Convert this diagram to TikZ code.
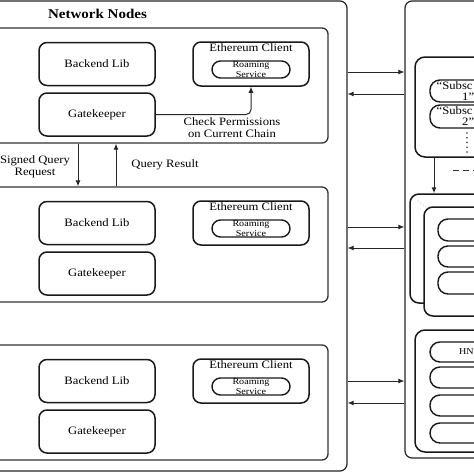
\documentclass[tikz,border=0pt]{standalone}
\usepackage{fontspec}
\setmainfont[FakeStretch=1.12]{Liberation Serif}
\usetikzlibrary{arrows.meta, positioning}

\begin{document}
\begin{tikzpicture}[x=1pt, y=-1pt,
    frame/.style={draw=black!85, line width=1.2pt, rounded corners=7pt, fill=white, inner sep=0pt},
    unit/.style={draw=black!80, line width=1.3pt, rounded corners=6pt, inner sep=0pt},
    box/.style={draw=black!90, line width=1.5pt, rounded corners=8pt, fill=white, inner sep=0pt},
    pill/.style={draw=black!90, line width=1.4pt, rounded corners=9pt, fill=white, inner sep=0pt},
    txt/.style={font=\fontsize{11.3}{12}\selectfont, align=center, inner sep=0pt},
    link/.style={black!85, line width=1pt, -{Latex[length=6pt,width=5pt]}}]
    \useasboundingbox (0,0) rectangle (474,474);
    \clip (0,0) rectangle (474,474);

    % two big columns
    \node[frame, minimum width=357pt, minimum height=470pt] (net) at (168.5,236) {};
    \node[frame, minimum width=135pt, minimum height=457pt] (chain) at (472.5,229.5) {};
    \node[font=\bfseries\fontsize{13.4}{14}\selectfont, inner sep=0pt] (title) at (97.5,14) {Network Nodes};

    % network nodes
    \foreach \t [count=\i] in {28,187,345} {
      \node[unit, minimum width=338pt, minimum height=115pt] (nn\i) at (159,{\t+57.5}) {};
      \node[box, txt, minimum width=116pt, minimum height=43pt] (lib\i) at (97,{\t+36}) {Backend Lib};
      \node[box, txt, minimum width=116pt, minimum height=43pt] (gate\i) at (97,{\t+86.5}) {Gatekeeper};
      \node[box, minimum width=116pt, minimum height=44pt] (eth\i) at (251,{\t+36}) {};
      \node[txt, anchor=north] (ethlbl\i) at ([yshift=-2pt]eth\i.north) {Ethereum Client};
      \node[pill, minimum width=78pt, minimum height=17pt, rounded corners=8.5pt, align=center,
            font=\fontsize{9}{9.5}\selectfont] (roam\i) at ([yshift=-5.5pt]eth\i.center) {Roaming\\Service};
    }

    % query between first and second node
    \coordinate (req) at (78,0);
    \coordinate (res) at (116,0);
    \draw[link] (nn1.south -| req) -- (nn2.north -| req);
    \draw[link] (nn2.north -| res) -- (nn1.south -| res);
    \node[txt] (reqlbl) at (35,167) {Signed Query\\Request};
    \node[txt] (reslbl) at (165,165) {Query Result};

    \draw[link, rounded corners=5pt] (gate1.east) -| (eth1.south);
    \node[txt, anchor=north] (chk) at (232,117) {Check Permissions\\on Current Chain};

    % right column
    \node[box, rounded corners=10pt, minimum width=125pt, minimum height=100pt] (subs) at (477.5,107) {};
    \node[pill, minimum width=74pt, minimum height=22pt, rounded corners=10pt] (sub1) at (467,91) {};
    \node[pill, minimum width=74pt, minimum height=23pt, rounded corners=10pt] (sub2) at (467,116.5) {};
    \node[txt, anchor=west] (sub1a) at (436.5,86) {“Subsc};
    \node[txt, anchor=west] (sub1b) at (462,97) {1”};
    \node[txt, anchor=west] (sub2a) at (436.5,111) {“Subsc};
    \node[txt, anchor=west] (sub2b) at (462,122) {2”};
    \foreach \d in {0,...,4}
      \fill[black!80] (467,{133+\d*4.75}) circle (0.9pt);
    \draw[black!80, line width=1pt, dash pattern=on 6pt off 4pt] (453,170) -- (480,170);

    \node[box, rounded corners=9pt, minimum width=130pt, minimum height=109pt] (stack) at (475,248.5) {};
    \node[box, rounded corners=9pt, minimum width=116pt, minimum height=109pt] (stackfront) at (482,261.5) {};
    \foreach \y/\h [count=\k] in {230/22, 256.5/21, 283/22}
      \node[pill, rounded corners=10pt, minimum width=120pt, minimum height=\h pt] (tx\k) at (498,\y) {};
    \foreach \e in {0,1,2}
      \fill[black!35] ({418+\e*2.5},{201+\e*2}) circle (0.5pt);
    \coordinate (drop) at (434,0);
    \draw[link] (subs.south -| drop) -- (stack.north -| drop);

    \node[box, rounded corners=10pt, minimum width=125pt, minimum height=122pt] (hns) at (477.5,391) {};
    \foreach \y/\h [count=\k] in {352/20, 377.5/21, 405.5/21, 433/20}
      \node[pill, rounded corners=10pt, minimum width=120pt, minimum height=\h pt] (hn\k) at (490,\y) {};
    \node[txt, anchor=west, font=\fontsize{9}{10}\selectfont] (hnlbl) at (459,352) {HN};

    % traffic between the columns
    \foreach \y in {72,227,381}
      \draw[link] (net.east |- 0,\y) -- (chain.west |- 0,\y);
    \foreach \y in {94,248,403}
      \draw[link] (chain.west |- 0,\y) -- (net.east |- 0,\y);
\end{tikzpicture}
\end{document}
